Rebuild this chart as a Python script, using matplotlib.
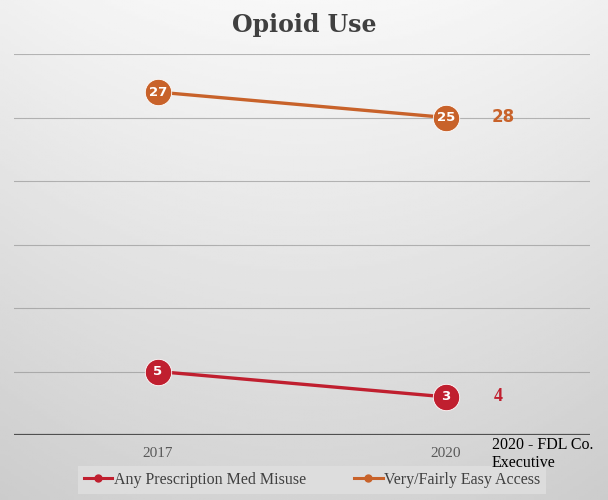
import matplotlib.pyplot as plt
import numpy as np
from matplotlib.lines import Line2D

years = ['2017', '2020']
misuse = [5, 3]
easy_access = [27, 25]
county_misuse = 4
county_access = 28
series_names = ['Any Prescription Med Misuse', 'Very/Fairly Easy Access']

red = '#c01f2f'
orange = '#c8622a'

fig = plt.figure(figsize=(6.08, 5.0), dpi=100)

# background gradient
bg = fig.add_axes([0, 0, 1, 1], zorder=-10)
yy = np.linspace(0, 1, 200)[:, None]
xx = np.linspace(-1, 1, 200)[None, :]
shade = 0.83 + 0.14 * yy - 0.03 * xx ** 2
bg.imshow(shade, cmap='gray', vmin=0, vmax=1, aspect='auto', origin='lower',
          extent=[0, 1, 0, 1])
bg.axis('off')

ax = fig.add_axes([14 / 608, 65 / 500, 576 / 608, 381 / 500])
ax.patch.set_alpha(0)
x = np.arange(len(years))
ax.set_xlim(-0.5, 1.5)
ax.set_ylim(0, 30)
ax.set_yticks(np.arange(5, 31, 5))
ax.grid(axis='y', color='#8c8c8c', linewidth=0.8, alpha=0.6)
ax.axhline(0, color='#505050', linewidth=1.6)
for s in ax.spines.values():
    s.set_visible(False)
ax.tick_params(left=False, bottom=False, labelleft=False)
ax.set_xticks(x)
ax.set_xticklabels(years, fontfamily='Liberation Serif', fontsize=11, color='#595959')
ax.tick_params(axis='x', pad=5)

for vals, col in [(misuse, red), (easy_access, orange)]:
    ax.plot(x, vals, color=col, linewidth=2.4, marker='o', markersize=19,
            markeredgecolor='white', markeredgewidth=0.6, zorder=3)
    for xi, v in zip(x, vals):
        ax.text(xi, v, str(v), ha='center', va='center', color='white',
                fontsize=9.5, fontweight='bold', zorder=4)

# county comparison labels sit beside the 2020 points
ax.text(1.2, easy_access[-1], str(county_access), color=orange, fontsize=12,
        fontweight='bold', fontfamily='DejaVu Sans', ha='center', va='center')
ax.text(1.18, misuse[-1], str(county_misuse), color=red, fontsize=13,
        fontweight='bold', fontfamily='Liberation Serif', ha='center', va='center')

fig.text(492 / 608, 1 - 454 / 500, '2020 - FDL Co.\nExecutive', ha='left', va='center',
         fontfamily='Liberation Serif', fontsize=11.5, color='black', linespacing=1.2)

fig.text(0.5, 1 - 25 / 500, 'Opioid Use', ha='center', va='center',
         fontfamily='DejaVu Serif', fontweight='bold', fontsize=17, color='#404040')

handles = [Line2D([0], [0], color=red, lw=2.2, marker='o', markersize=5),
           Line2D([0], [0], color=orange, lw=2.2, marker='o', markersize=5)]
leg = fig.legend(handles, series_names, loc='center', bbox_to_anchor=(312 / 608, 1 - 480 / 500),
                 ncol=2, frameon=True, fancybox=False, handlelength=1.8, handletextpad=0.1,
                 columnspacing=3.0, borderpad=0.35,
                 prop={'family': 'Liberation Serif', 'size': 11.5})
leg.get_frame().set_facecolor('#e0e0e0')
leg.get_frame().set_edgecolor('none')
leg.set_zorder(-5)
for t in leg.get_texts():
    t.set_color('#404040')

fig.savefig('out.png', dpi=100)
